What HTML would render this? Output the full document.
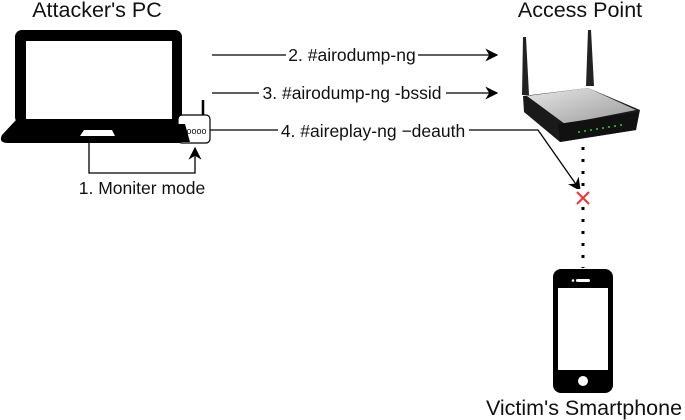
<!DOCTYPE html>
<html><head><style>
html,body{margin:0;padding:0;background:#fff;}
svg{display:block;}
text{font-family:"Liberation Sans",Arial,sans-serif;fill:#111;}
</style></head><body>
<svg width="685" height="420" viewBox="0 0 685 420" xmlns="http://www.w3.org/2000/svg">
<defs>
<marker id="ah" viewBox="0 0 10 10" refX="9" refY="5" markerWidth="13" markerHeight="13" markerUnits="userSpaceOnUse" orient="auto"><path d="M0,0 L10,5 L0,10 L3,5 z" fill="#000"/></marker>
<linearGradient id="top" x1="0" y1="0" x2="1" y2="1"><stop offset="0" stop-color="#e6e6e6"/><stop offset="1" stop-color="#9a9a9a"/></linearGradient>
</defs>
<!-- titles -->
<text x="97" y="17" font-size="21.5" text-anchor="middle">Attacker's PC</text>
<text x="580" y="17" font-size="21.5" text-anchor="middle">Access Point</text>
<text x="584" y="415" font-size="21.5" text-anchor="middle">Victim's Smartphone</text>
<!-- laptop -->
<rect x="15" y="30" width="167" height="94" rx="7" fill="#000"/>
<rect x="26" y="41" width="146" height="78" fill="#fff"/>
<path d="M16,120 L182,120 L192,135 Q193,143 183,143 L8,143 Q-2,143 2,135 Z" fill="#000"/>
<path d="M84,130 L112,130 L115,136 L80,136 Z" fill="#fff"/>
<!-- dongle -->
<line x1="203" y1="100" x2="203" y2="116" stroke="#000" stroke-width="2.5"/>
<rect x="178" y="115" width="32" height="28" rx="4" fill="#fff" stroke="#000" stroke-width="1.2"/>
<text x="194" y="134" font-size="9" text-anchor="middle">ooooo</text>
<path d="M178,124 L185,124 L190,142 L178,142 Z" fill="#000"/>
<!-- monitor mode -->
<polyline points="89,143 89,173 195,173 195,148" fill="none" stroke="#000" stroke-width="1.3" marker-end="url(#ah)"/>
<text x="142" y="194" font-size="17.5" text-anchor="middle">1. Moniter mode</text>
<!-- arrows -->
<line x1="212" y1="55" x2="497" y2="55" stroke="#000" stroke-width="1.3" marker-end="url(#ah)"/>
<rect x="286" y="44" width="132" height="20" fill="#fff"/>
<text x="352" y="61" font-size="17.5" text-anchor="middle">2. #airodump-ng</text>
<line x1="212" y1="93" x2="497" y2="93" stroke="#000" stroke-width="1.3" marker-end="url(#ah)"/>
<rect x="259" y="82" width="187" height="20" fill="#fff"/>
<text x="352" y="99" font-size="17.5" text-anchor="middle">3. #airodump-ng -bssid</text>
<polyline points="210,130 538,130 580,190" fill="none" stroke="#000" stroke-width="1.3" marker-end="url(#ah)"/>
<rect x="278" y="119" width="191" height="20" fill="#fff"/>
<text x="373" y="137" font-size="17.5" text-anchor="middle">4. #aireplay-ng −deauth</text>
<!-- router -->
<path d="M523,37 L526,37 L529,95 L522,95 Z" fill="#222"/>
<path d="M588,30 L591,30 L594,86 L586,86 Z" fill="#222"/>
<path d="M523,96 L588,88 L640,110 L636,130 L560,142 L524,112 Z" fill="#1a1a1a"/>
<path d="M527,96 L588,88 L636,110 L565,124 Z" fill="url(#top)"/>
<path d="M558,124 L638,112 L636,130 L560,142 Z" fill="#111"/>
<g fill="#3c3">
<circle cx="579" cy="132" r="1"/><circle cx="585" cy="131" r="1"/><circle cx="591" cy="130" r="1"/><circle cx="597" cy="129" r="1"/><circle cx="603" cy="128" r="1"/><circle cx="609" cy="127" r="1"/><circle cx="615" cy="126" r="1"/><circle cx="621" cy="125" r="1"/>
</g>
<!-- dotted line -->
<line x1="583" y1="147" x2="583" y2="268" stroke="#000" stroke-width="3" stroke-dasharray="3,9"/>
<rect x="574" y="189" width="18" height="18" fill="#fff"/>
<path d="M577,192 L589,204 M589,192 L577,204" stroke="#e33" stroke-width="2"/>
<!-- phone -->
<rect x="553" y="269" width="60" height="124" rx="8" fill="#000"/>
<rect x="558" y="288" width="50" height="82" fill="#fff"/>
<rect x="576" y="279" width="14" height="3" rx="1.5" fill="#fff"/>
<circle cx="573" cy="280.5" r="1.3" fill="#fff"/>
<circle cx="583" cy="381" r="5" fill="#fff"/>
</svg>
</body></html>
